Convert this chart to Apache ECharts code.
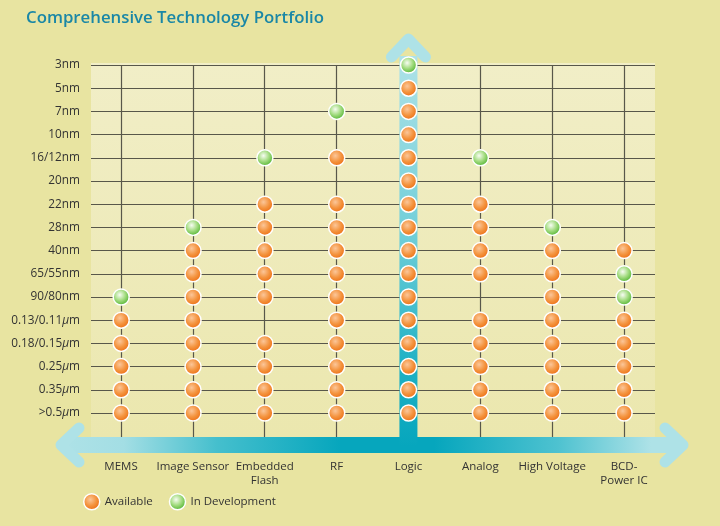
<!DOCTYPE html>
<html>
<head>
<meta charset="utf-8">
<title>Comprehensive Technology Portfolio</title>
<script src="https://cdn.jsdelivr.net/npm/echarts@6/dist/echarts.min.js"></script>
<style>
html, body { margin: 0; padding: 0; background: #e8e4a1; }
#myChart { width: 720px; height: 526px; }
</style>
</head>
<body>
<div id="myChart"></div>
<script>
var technologies = ['MEMS', 'Image Sensor', 'Embedded\nFlash', 'RF', 'Logic', 'Analog', 'High Voltage', 'BCD-\nPower IC'];
var nodes = ['3nm', '5nm', '7nm', '10nm', '16/12nm', '20nm', '22nm', '28nm', '40nm', '65/55nm', '90/80nm',
             '0.13/0.11μm', '0.18/0.15μm', '0.25μm', '0.35μm', '>0.5μm'];

// one letter per node, top to bottom: A = available, D = in development, - = none
var mems          = '----------DAAAAA';
var imageSensor   = '-------DAAAAAAAA';
var embeddedFlash = '----D-AAAAA-AAAA';
var rf            = '--D-A-AAAAAAAAAA';
var logic         = 'DAAAAAAAAAAAAAAA';
var analog        = '----D-AAAA-AAAAA';
var highVoltage   = '-------DAAAAAAAA';
var bcd           = '--------ADDAAAAA';

var techStatus = [mems, imageSensor, embeddedFlash, rf, logic, analog, highVoltage, bcd];

var available = [];
var development = [];
for (var i = 0; i < techStatus.length; i++) {
    for (var j = 0; j < nodes.length; j++) {
        if (techStatus[i].charAt(j) === 'A') available.push([i, j]);
        if (techStatus[i].charAt(j) === 'D') development.push([i, j]);
    }
}

var font = 'Open Sans';
var lineColor = '#58574a';
var orange = {
    type: 'radial', x: 0.42, y: 0.38, r: 0.62,
    colorStops: [{offset: 0, color: '#fbc699'}, {offset: 0.55, color: '#f4943f'}, {offset: 1, color: '#ec6e14'}]
};
var green = {
    type: 'radial', x: 0.42, y: 0.38, r: 0.62,
    colorStops: [{offset: 0, color: '#f7fcf2'}, {offset: 0.5, color: '#a6dd84'}, {offset: 1, color: '#4fb32e'}]
};
var light = '#aee2e7';
var teal = '#06a6bd';

var myChart = echarts.init(document.getElementById('myChart'));

option = {
    backgroundColor: '#e8e4a1',
    textStyle: { fontFamily: font },
    title: {
        text: 'Comprehensive Technology Portfolio',
        left: 21,
        top: 5,
        textStyle: { fontFamily: font, fontSize: 16.8, fontWeight: 600, color: '#1a87a6' }
    },
    legend: {
        data: ['Available', 'In Development'],
        left: 83,
        top: 493,
        padding: 0,
        icon: 'circle',
        itemWidth: 16,
        itemHeight: 16,
        itemGap: 16,
        itemStyle: { borderColor: '#fff', borderWidth: 1.5 },
        textStyle: { fontFamily: font, fontSize: 11.5, color: '#333' }
    },
    grid: [
        { left: 91, right: 65, top: 65, bottom: 113 },
        { left: 121, right: 96, top: 65, bottom: 89 }
    ],
    xAxis: [
        { gridIndex: 0, type: 'value', min: -0.42, max: 7.43, show: false },
        {
            gridIndex: 1, type: 'category', data: technologies, boundaryGap: false,
            axisLine: { show: false }, axisTick: { show: false },
            axisLabel: { interval: 0, margin: 23, fontSize: 11.5, lineHeight: 14, color: '#333', fontFamily: font },
            splitLine: { show: true, interval: 0, lineStyle: { color: lineColor, width: 1.2 } }
        }
    ],
    yAxis: [
        {
            gridIndex: 0, type: 'category', data: nodes, inverse: true, boundaryGap: false,
            axisLine: { show: false }, axisTick: { show: false },
            axisLabel: {
                interval: 0, margin: 11, fontSize: 11.8, color: '#333', fontFamily: font,
                formatter: function (v) { return v.replace('μ', '{i|μ}'); },
                rich: { i: { fontStyle: 'italic', fontSize: 11.8, color: '#333', fontFamily: font } }
            },
            splitLine: { show: true, interval: 0, lineStyle: { color: lineColor, width: 1.2 } }
        },
        { gridIndex: 1, type: 'value', show: false }
    ],
    series: [
        {
            name: 'Available',
            type: 'scatter',
            xAxisIndex: 0,
            yAxisIndex: 0,
            symbolSize: 16,
            z: 5,
            itemStyle: { color: orange, borderColor: '#fff', borderWidth: 1.5, opacity: 1 },
            data: available
        },
        {
            name: 'In Development',
            type: 'scatter',
            xAxisIndex: 0,
            yAxisIndex: 0,
            symbolSize: 16,
            z: 5,
            itemStyle: { color: green, borderColor: '#fff', borderWidth: 1.5, opacity: 1 },
            data: development
        }
    ]
};

myChart.setOption(option);

// arrows and plot background, placed from the axes
var logicX = myChart.convertToPixel({ xAxisIndex: 1 }, 'Logic');
var firstX = myChart.convertToPixel({ xAxisIndex: 0 }, -0.42);
var lastX = myChart.convertToPixel({ xAxisIndex: 0 }, 7.43);
var topY = myChart.convertToPixel({ yAxisIndex: 0 }, 0);
var axisY = 437;

myChart.setOption({
    graphic: [
        {
            type: 'rect', z: -1, silent: true,
            shape: { x: firstX, y: topY - 2, width: lastX - firstX, height: axisY - topY + 2 },
            style: { fill: new echarts.graphic.LinearGradient(0, 0, 0, 1, [
                { offset: 0, color: '#f1eec7' }, { offset: 1, color: '#ebe7ae' }]) }
        },
        {
            type: 'rect', z: 1, silent: true,
            shape: { x: 62, y: axisY, width: 620, height: 16 },
            style: { fill: new echarts.graphic.LinearGradient(0, 0, 1, 0, [
                { offset: 0, color: light }, { offset: 0.1, color: '#a3dee4' }, { offset: 0.25, color: '#45bfcd' },
                { offset: 0.45, color: teal }, { offset: 0.6, color: teal }, { offset: 0.8, color: '#4ec2d0' },
                { offset: 0.95, color: light }, { offset: 1, color: light }]) }
        },
        {
            type: 'polyline', z: 1, silent: true,
            shape: { points: [[79, axisY - 9], [61, axisY + 8], [79, axisY + 25]] },
            style: { stroke: light, lineWidth: 11, lineCap: 'round', lineJoin: 'round', fill: null }
        },
        {
            type: 'polyline', z: 1, silent: true,
            shape: { points: [[665, axisY - 9], [683, axisY + 8], [665, axisY + 25]] },
            style: { stroke: light, lineWidth: 11, lineCap: 'round', lineJoin: 'round', fill: null }
        },
        {
            type: 'rect', z: 1, silent: true,
            shape: { x: logicX - 9, y: topY - 9, width: 18, height: axisY + 10 - (topY - 9) },
            style: { fill: new echarts.graphic.LinearGradient(0, 0, 0, 1, [
                { offset: 0, color: light }, { offset: 0.45, color: '#72cfd9' },
                { offset: 0.8, color: '#1eb0c4' }, { offset: 1, color: teal }]) }
        },
        {
            type: 'polyline', z: 1, silent: true,
            shape: { points: [[logicX - 17, topY - 8], [logicX, topY - 26], [logicX + 17, topY - 8]] },
            style: { stroke: light, lineWidth: 11, lineCap: 'round', lineJoin: 'round', fill: null }
        }
    ]
});
</script>
</body>
</html>
